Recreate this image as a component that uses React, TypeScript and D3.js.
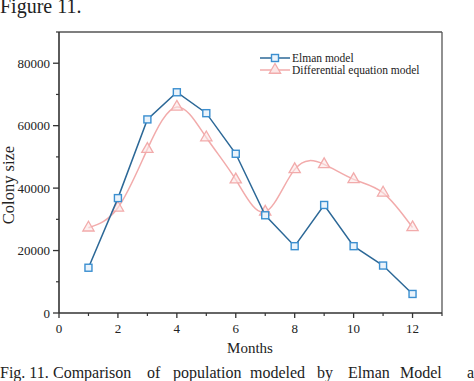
import React from "react";
import * as d3 from "d3";

const months = [1, 2, 3, 4, 5, 6, 7, 8, 9, 10, 11, 12];
const elman = [14500, 36800, 62000, 70700, 64000, 51000, 31300, 21400, 34600, 21400, 15200, 6100];
const diffEq = [27300, 33700, 52500, 66000, 56200, 42700, 32400, 46000, 47600, 42800, 38500, 27400];
const xTicks = [0, 2, 4, 6, 8, 10, 12];
const xMinor = [1, 3, 5, 7, 9, 11, 13];
const yTicks = [0, 20000, 40000, 60000, 80000];
const yMinor = [10000, 30000, 50000, 70000, 90000];
const seriesNames = ["Elman model", "Differential equation model"];
const captionWords = ["Fig. 11.", "Comparison", "of", "population", "modeled", "by", "Elman", "Model", "a"];
const captionX = [0, 53, 147, 173, 250, 317, 348, 400, 467];

const W = 474;
const H = 381;
const L = 59, R = 442, T = 32, B = 313;

export default function App() {
  const x = d3.scaleLinear().domain([0, 13]).range([L, R]);
  const y = d3.scaleLinear().domain([0, 90000]).range([B, T]);
  const font = "'Liberation Serif', 'Times New Roman', serif";
  const text = "#222";
  const axis = "#333";
  const blueLine = "#2c6897";
  const blueMark = "#3b8fd0";
  const pink = "#f2abab";

  const lineE = d3.line<number>().x((_, i) => x(months[i])).y((d) => y(d));
  const lineD = d3.line<number>().x((_, i) => x(months[i])).y((d) => y(d)).curve(d3.curveNatural);
  const tri = d3.symbol().type(d3.symbolTriangle).size(55);

  return (
    <svg width={W} height={H} style={{ position: "absolute", left: 0, top: 0, background: "#fff" }} fontFamily={font}>
      <rect width={W} height={H} fill="#fff" />
      <text x={0} y={13} fontSize={20} fill={text}>Figure 11.</text>

      {/* frame */}
      <line x1={L} x2={R} y1={T} y2={T} stroke="#555" strokeWidth={1.3} />
      <line x1={R} x2={R} y1={T} y2={B} stroke="#555" strokeWidth={1.3} />
      <line x1={L} x2={L} y1={T} y2={B} stroke={axis} strokeWidth={1.6} />
      <line x1={L} x2={R} y1={B} y2={B} stroke={axis} strokeWidth={1.6} />

      {/* x ticks */}
      {xTicks.map((t) => (
        <g key={"xt" + t}>
          <line x1={x(t)} x2={x(t)} y1={B} y2={B + 5} stroke={axis} strokeWidth={1.3} />
          <text x={x(t)} y={333} fontSize={13} textAnchor="middle" fill={text}>{t}</text>
        </g>
      ))}
      {xMinor.map((t) => (
        <line key={"xm" + t} x1={x(t)} x2={x(t)} y1={B} y2={B + 3} stroke={axis} strokeWidth={1.2} />
      ))}
      {/* y ticks */}
      {yTicks.map((t) => (
        <g key={"yt" + t}>
          <line x1={L - 6} x2={L} y1={y(t)} y2={y(t)} stroke={axis} strokeWidth={1.3} />
          <text x={50} y={y(t)} dy="0.35em" fontSize={13} textAnchor="end" fill={text}>{t}</text>
        </g>
      ))}
      {yMinor.map((t) => (
        <line key={"ym" + t} x1={L - 3} x2={L} y1={y(t)} y2={y(t)} stroke={axis} strokeWidth={1.2} />
      ))}

      <text x={250} y={353} fontSize={15} textAnchor="middle" fill={text}>Months</text>
      <text transform="translate(14,185) rotate(-90)" fontSize={16.5} textAnchor="middle" fill={text}>Colony size</text>

      {/* series */}
      <path d={lineD(diffEq) || ""} fill="none" stroke={pink} strokeWidth={1.5} />
      {diffEq.map((v, i) => (
        <path key={"d" + i} d={tri() || ""} transform={`translate(${x(months[i])},${y(v)})`} fill="#fbe6e6" fillOpacity={0.6} stroke={pink} strokeWidth={1.3} />
      ))}
      <path d={lineE(elman) || ""} fill="none" stroke={blueLine} strokeWidth={1.5} />
      {elman.map((v, i) => (
        <rect key={"e" + i} x={x(months[i]) - 3.5} y={y(v) - 3.5} width={7} height={7} fill="#eaf3fb" stroke={blueMark} strokeWidth={1.4} />
      ))}

      {/* legend */}
      <line x1={260} x2={290} y1={58} y2={58} stroke={blueLine} strokeWidth={1.5} />
      <rect x={271.5} y={54.5} width={7} height={7} fill="#eaf3fb" stroke={blueMark} strokeWidth={1.4} />
      <text x={292} y={58} dy="0.33em" fontSize={11.5} fill={text}>{seriesNames[0]}</text>
      <line x1={260} x2={290} y1={70} y2={70} stroke={pink} strokeWidth={1.5} />
      <path d={tri() || ""} transform="translate(275,70)" fill="#fbe6e6" stroke={pink} strokeWidth={1.3} />
      <text x={292} y={70} dy="0.33em" fontSize={11.5} fill={text}>{seriesNames[1]}</text>

      {/* caption */}
      {captionWords.map((w, i) => (
        <text key={"c" + i} x={captionX[i]} y={378} fontSize={16} fill={text}>{w}</text>
      ))}
    </svg>
  );
}
